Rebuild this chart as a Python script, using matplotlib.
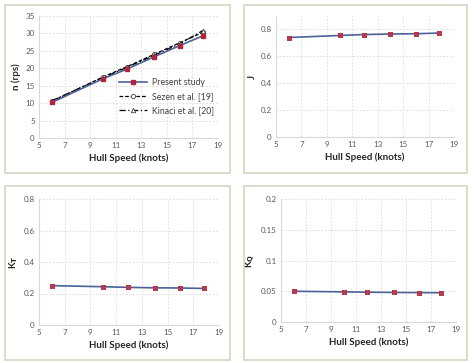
import matplotlib
matplotlib.use("Agg")
import matplotlib.pyplot as plt
from matplotlib.patches import Rectangle

plt.rcParams['font.family'] = ['Lato', 'DejaVu Sans']

speed = [6, 10, 11.9, 14, 16, 17.8]
n_present = [10.2, 17.0, 19.8, 23.3, 26.5, 29.3]
n_sezen = [10.5, 17.5, 20.5, 24.0, 27.3, 30.3]
n_kinaci = [10.7, 17.3, 20.3, 23.7, 27.0, 30.8]
J_vals = [0.740, 0.755, 0.762, 0.766, 0.768, 0.773]
KT_vals = [0.250, 0.243, 0.239, 0.236, 0.235, 0.232]
KQ_vals = [0.0500, 0.0490, 0.0485, 0.0480, 0.0478, 0.0475]

xticks = [5, 7, 9, 11, 13, 15, 17, 19]

W, H = 474, 363
fig = plt.figure(figsize=(W / 100, H / 100), dpi=100)
fig.patch.set_facecolor('white')

def frac(x0, y0, x1, y1):
    return [x0 / W, 1 - y1 / H, (x1 - x0) / W, (y1 - y0) / H]

frames = [(5, 5, 230, 173), (244, 5, 467, 173), (5, 186, 230, 360), (244, 186, 467, 360)]
for f in frames:
    x0, y0, x1, y1 = f
    fig.patches.append(Rectangle((x0 / W, 1 - y1 / H), (x1 - x0) / W, (y1 - y0) / H,
                                 transform=fig.transFigure, fill=False,
                                 edgecolor='#D6D6C2', linewidth=1.2))

line_c = '#4A6299'
mark_c = '#B0243C'
tick_c = '#595959'

def style(ax, ylim, yticks, yfmt, ylabel):
    ax.set_xlim(5, 19)
    ax.set_ylim(*ylim)
    ax.set_xticks(xticks)
    ax.set_yticks(yticks)
    ax.set_yticklabels([yfmt(v) for v in yticks])
    ax.grid(True, color='#D9D9D9', linestyle=(0, (2, 2)), linewidth=0.6)
    for s in ['top', 'right']:
        ax.spines[s].set_visible(False)
    for s in ['left', 'bottom']:
        ax.spines[s].set_color('#D9D9D9')
        ax.spines[s].set_linewidth(0.8)
    ax.tick_params(axis='both', length=0, labelsize=5.8, colors=tick_c, pad=3)
    ax.set_xlabel('Hull Speed (knots)', fontsize=7, fontweight='bold', color='#262626', labelpad=3)
    ax.set_ylabel(ylabel, fontsize=7, fontweight='bold', color='#262626', labelpad=3)

def present(ax, y):
    ax.plot(speed, y, color=line_c, linewidth=1.2, zorder=3)
    ax.plot(speed, y, linestyle='none', marker='s', markersize=3.2, color=mark_c,
            markerfacecolor='#E0A0AE', markeredgecolor=mark_c, markeredgewidth=0.6, zorder=4)
    ax.plot(speed, y, linestyle='none', marker='x', markersize=2.6, color=mark_c,
            markeredgewidth=0.8, zorder=5)

# Panel 1: n
ax1 = fig.add_axes(frac(39, 16, 218, 138))
ax1.plot(speed, n_present, color=line_c, linewidth=1.2, marker='s', markersize=3.0,
         markerfacecolor=mark_c, markeredgecolor=mark_c, label='Present study', zorder=4)
ax1.plot(speed, n_sezen, color='black', linewidth=0.9, linestyle=(0, (3, 1.5)), marker='o',
         markersize=3.0, markerfacecolor='white', markeredgecolor='#404040', markeredgewidth=0.6,
         label='Sezen et al. [19]', zorder=3)
ax1.plot(speed, n_kinaci, color='black', linewidth=0.9, linestyle=(0, (5, 2, 1, 2)), marker='^',
         markersize=3.2, markerfacecolor='white', markeredgecolor='#404040', markeredgewidth=0.6,
         label='Kinaci et al. [20]', zorder=3)
style(ax1, (0, 35), [0, 5, 10, 15, 20, 25, 30, 35], lambda v: f'{v:g}', 'n (rps)')
leg = ax1.legend(loc='lower right', bbox_to_anchor=(1.02, 0.12), fontsize=6.3, frameon=False,
                 handlelength=3.2, handletextpad=0.5, labelspacing=0.6, labelcolor='#404040')

# Panel 2: J
ax2 = fig.add_axes(frac(276, 16, 454, 137))
present(ax2, J_vals)
style(ax2, (0, 0.9), [0, 0.2, 0.4, 0.6, 0.8], lambda v: f'{v:g}', 'J')

# Panel 3: KT
ax3 = fig.add_axes(frac(39, 199, 219, 325))
present(ax3, KT_vals)
style(ax3, (0, 0.8), [0, 0.2, 0.4, 0.6, 0.8], lambda v: f'{v:g}', r'K$_\mathbf{T}$')

# Panel 4: KQ
ax4 = fig.add_axes(frac(281, 199, 456, 322))
present(ax4, KQ_vals)
style(ax4, (0, 0.2), [0, 0.05, 0.1, 0.15, 0.2], lambda v: f'{v:g}', r'K$_\mathbf{Q}$')

fig.savefig('out.png', dpi=100, facecolor='white')
